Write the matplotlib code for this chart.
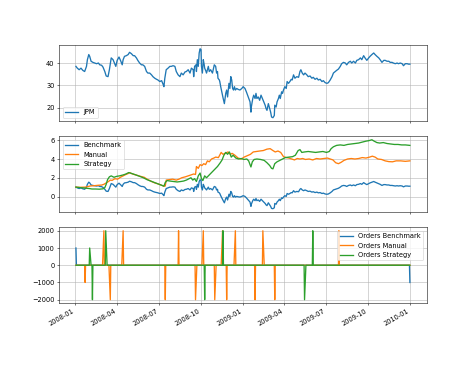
"""JPM price, normalised portfolio values and order sizes, 2008-2009."""

import pandas as pd
import matplotlib
matplotlib.use("Agg")
import matplotlib.pyplot as plt
import matplotlib.dates as mdates

START = pd.Timestamp("2008-01-01")

# JPM close (days after 2008-01-01, price)
jpm_days = [1, 4, 8, 12, 16, 20, 24, 26, 29, 31, 34, 38, 42, 46, 50, 53, 57, 60, 64, 67,
            71, 74, 78, 82, 85, 88, 91, 95, 99, 102, 104, 107, 111, 115, 118, 122, 126, 129, 133, 136,
            140, 144, 147, 151, 155, 158, 162, 166, 169, 173, 177, 180, 184, 188, 191, 193, 195, 198, 202, 206,
            209, 213, 217, 220, 224, 228, 231, 235, 239, 242, 246, 250, 253, 257, 258, 260, 263, 264, 266, 268,
            270, 272, 274, 275, 277, 279, 281, 282, 285, 286, 290, 292, 295, 299, 303, 306, 308, 310, 311, 314,
            315, 317, 320, 322, 325, 328, 330, 332, 335, 337, 339, 341, 343, 345, 347, 349, 352, 355, 359, 363,
            366, 370, 373, 377, 381, 383, 384, 387, 389, 392, 394, 396, 399, 402, 405, 408, 411, 414, 416, 418,
            421, 423, 426, 428, 431, 434, 435, 438, 440, 443, 445, 447, 450, 452, 454, 457, 460, 462, 465, 468,
            471, 473, 476, 479, 483, 487, 490, 492, 495, 498, 501, 505, 508, 512, 516, 519, 523, 527, 530, 534,
            538, 541, 545, 549, 552, 556, 560, 563, 567, 570, 574, 578, 581, 585, 589, 592, 596, 600, 603, 607,
            611, 614, 618, 622, 625, 629, 632, 636, 640, 643, 647, 651, 654, 658, 662, 665, 669, 673, 676, 680,
            684, 687, 691, 694, 698, 702, 705, 709, 713, 716, 720, 724, 727, 730]
jpm_price = [38.5, 37.7, 37.0, 37.7, 36.7, 36.2, 38.5, 41.5, 43.8, 43.0, 40.8, 40.3, 40.0, 39.7, 40.0, 39.2, 39.0, 38.2, 36.2, 34.2,
             33.9, 37.0, 42.3, 41.5, 40.0, 38.5, 41.2, 42.7, 40.8, 39.2, 41.5, 43.0, 43.3, 43.8, 44.8, 44.2, 43.3, 43.3, 42.3, 41.2,
             40.0, 39.2, 39.2, 38.5, 36.2, 35.5, 35.5, 34.7, 33.9, 33.2, 32.7, 32.4, 31.7, 32.1, 30.6, 29.4, 33.2, 37.0, 37.7, 38.5,
             38.5, 38.8, 38.5, 36.2, 34.7, 33.9, 35.5, 34.7, 36.0, 36.2, 37.0, 35.5, 37.7, 37.0, 33.9, 38.5, 39.2, 36.2, 41.5, 38.5,
             44.5, 46.4, 46.0, 38.5, 35.5, 41.5, 39.2, 37.7, 36.2, 35.5, 38.5, 36.2, 37.0, 35.5, 39.2, 38.5, 35.5, 36.2, 33.2, 32.4,
             31.7, 29.4, 26.4, 24.5, 21.8, 26.4, 27.9, 24.8, 30.9, 28.6, 33.9, 32.4, 28.6, 27.9, 29.4, 27.9, 28.6, 28.2, 27.9, 28.6,
             29.4, 28.6, 27.1, 24.8, 22.6, 18.0, 20.5, 24.1, 25.6, 24.1, 26.4, 24.1, 24.8, 23.3, 25.6, 24.1, 22.6, 21.1, 19.6, 18.8,
             21.8, 20.3, 18.0, 15.8, 15.5, 16.5, 21.1, 20.3, 22.6, 24.1, 25.6, 24.1, 27.1, 26.4, 27.9, 29.4, 28.6, 31.7, 30.9, 31.7,
             32.7, 32.4, 34.7, 33.2, 33.9, 33.6, 36.2, 37.0, 35.5, 34.7, 35.5, 34.7, 33.9, 34.2, 33.2, 33.6, 32.7, 33.2, 32.4, 32.7,
             31.7, 32.1, 31.2, 30.9, 31.2, 32.4, 33.9, 35.5, 36.2, 36.7, 37.3, 38.5, 39.7, 40.3, 40.0, 39.2, 40.3, 40.8, 40.0, 40.8,
             40.0, 41.2, 41.5, 42.3, 41.5, 43.3, 42.3, 41.2, 42.3, 43.0, 43.8, 44.5, 43.8, 43.0, 42.3, 41.5, 40.3, 41.2, 41.2, 40.8,
             40.8, 40.3, 40.3, 40.0, 39.7, 40.0, 39.7, 40.0, 39.7, 38.8, 39.7, 39.7, 39.5, 39.5]

# benchmark holds 1000 shares; one dollar of JPM moves it by 0.1
BENCH_PER_DOLLAR = 0.1

# manual strategy value
man_days = [1, 10, 21, 26, 32, 40, 50, 57, 62, 67, 72, 76, 80, 86, 92, 98, 104, 110, 115, 118,
            122, 128, 135, 142, 150, 158, 166, 173, 180, 188, 193, 196, 198, 205, 212, 220, 226, 232, 240, 246,
            252, 258, 262, 264, 268, 272, 276, 280, 284, 288, 292, 297, 302, 306, 312, 318, 322, 326, 333, 338,
            342, 348, 355, 362, 368, 375, 382, 388, 395, 402, 410, 418, 425, 431, 436, 442, 448, 454, 460, 466,
            472, 478, 484, 490, 496, 502, 510, 518, 526, 534, 542, 550, 556, 562, 568, 574, 580, 586, 594, 602,
            610, 618, 626, 634, 642, 648, 654, 660, 668, 676, 684, 692, 700, 710, 720, 730]
man_value = [1.0, 0.98, 1.0, 1.05, 1.12, 1.15, 1.2, 1.22, 1.3, 1.45, 1.6, 1.75, 1.72, 1.9, 1.85, 2.05, 2.2, 2.35, 2.45, 2.55,
             2.45, 2.35, 2.25, 2.15, 2.05, 1.8, 1.6, 1.45, 1.35, 1.2, 1.1, 1.12, 1.75, 1.8, 1.85, 1.75, 1.85, 2.0, 2.1, 2.2,
             2.3, 2.4, 2.35, 3.2, 3.0, 3.4, 3.3, 3.5, 3.4, 3.8, 3.7, 4.0, 4.1, 4.2, 4.15, 4.7, 4.5, 4.6, 4.75, 4.5,
             4.6, 4.4, 4.1, 4.0, 4.2, 4.35, 4.5, 4.75, 4.8, 4.85, 4.9, 5.05, 5.1, 4.9, 4.75, 4.85, 4.7, 4.25, 4.15, 4.1,
             4.0, 3.9, 4.05, 4.0, 4.05, 3.95, 4.0, 3.9, 4.05, 4.0, 4.05, 4.1, 4.0, 3.9, 3.6, 3.5, 3.65, 3.85, 4.0, 4.05,
             4.0, 4.05, 4.15, 4.1, 4.2, 4.3, 4.2, 4.0, 3.95, 3.8, 3.72, 3.7, 3.8, 3.8, 3.75, 3.8]

# learned strategy value
strat_days = [1, 10, 20, 30, 36, 44, 52, 60, 64, 67, 70, 74, 78, 84, 90, 96, 104, 110, 116, 120,
              126, 132, 140, 148, 156, 164, 172, 180, 188, 193, 196, 200, 206, 214, 222, 230, 236, 242, 248, 252,
              256, 260, 264, 268, 272, 275, 278, 282, 286, 292, 298, 304, 310, 316, 320, 324, 328, 332, 336, 340,
              344, 350, 356, 362, 368, 374, 378, 381, 383, 386, 390, 396, 404, 412, 418, 424, 428, 431, 435, 440,
              446, 452, 458, 466, 474, 480, 486, 490, 494, 500, 508, 516, 524, 532, 540, 548, 554, 558, 563, 570,
              578, 586, 594, 602, 610, 618, 626, 634, 640, 647, 652, 658, 664, 672, 680, 688, 696, 704, 712, 720,
              730]
strat_value = [1.0, 0.95, 0.9, 0.85, 0.8, 0.8, 0.78, 0.82, 0.95, 1.3, 1.8, 2.1, 2.2, 2.05, 2.15, 2.2, 2.3, 2.4, 2.55, 2.5,
               2.4, 2.3, 2.15, 2.0, 1.8, 1.65, 1.5, 1.35, 1.2, 1.1, 1.5, 1.7, 1.65, 1.6, 1.55, 1.6, 1.65, 1.75, 1.9, 2.0,
               1.75, 1.9, 1.6, 2.2, 2.5, 1.9, 1.7, 2.2, 2.0, 2.3, 2.6, 2.9, 3.2, 3.6, 3.9, 4.4, 4.7, 4.5, 4.75, 4.2,
               4.4, 4.1, 4.0, 4.05, 3.95, 4.0, 3.8, 3.4, 3.15, 3.7, 3.95, 4.0, 3.95, 3.85, 3.6, 3.3, 3.0, 2.95, 3.5, 3.7,
               3.85, 4.0, 4.15, 4.2, 4.25, 4.4, 4.9, 5.0, 4.7, 4.75, 4.8, 4.75, 4.7, 4.75, 4.8, 4.7, 4.8, 5.1, 5.3, 5.45,
               5.5, 5.45, 5.55, 5.6, 5.65, 5.7, 5.8, 5.9, 5.95, 6.05, 5.9, 5.75, 5.7, 5.75, 5.65, 5.6, 5.55, 5.55, 5.5, 5.5,
               5.45]

# trades (date, shares)
bench_trades = [("2008-01-02", 1000), ("2009-12-31", -1000)]
manual_trades = [("2008-01-22", -1000), ("2008-03-03", 2000), ("2008-03-17", -2000), ("2008-04-14", 2000),
                 ("2008-07-15", -2000), ("2008-08-13", 2000), ("2008-09-19", -2000), ("2008-10-06", 2000),
                 ("2008-10-31", -2000), ("2008-11-17", 2000), ("2008-11-26", -2000), ("2008-12-15", 2000),
                 ("2009-01-27", -2000), ("2009-02-13", 2000), ("2009-03-11", -2000), ("2009-07-29", 2000)]
strat_trades = [("2008-02-01", 1000), ("2008-02-07", -2000), ("2008-03-07", 2000), ("2008-10-09", -2000),
                ("2008-11-18", 2000), ("2009-05-15", -2000), ("2009-06-02", 2000)]


def to_dates(days):
    return START + pd.to_timedelta(days, unit="D")


def order_series(trades, index):
    s = pd.Series(0, index=index)
    for d, n in trades:
        s[pd.Timestamp(d)] = n
    return s


jpm = pd.Series(jpm_price, index=to_dates(jpm_days))
bench = 1 + (jpm - jpm.iloc[0]) * BENCH_PER_DOLLAR
manual = pd.Series(man_value, index=to_dates(man_days))
strat = pd.Series(strat_value, index=to_dates(strat_days))

tdays = pd.bdate_range("2008-01-02", "2009-12-31")
ord_bench = order_series(bench_trades, tdays)
ord_manual = order_series(manual_trades, tdays)
ord_strat = order_series(strat_trades, tdays)

plt.rcParams["lines.linewidth"] = 2.0

fig, axes = plt.subplots(3, 1, figsize=(10, 8), sharex=True)

ax = axes[0]
ax.plot(jpm.index, jpm.values, label="JPM")
ax.legend(loc="lower left")
ax.grid(True)

ax = axes[1]
ax.plot(bench.index, bench.values, label="Benchmark")
ax.plot(manual.index, manual.values, label="Manual")
ax.plot(strat.index, strat.values, label="Strategy")
ax.legend(loc="upper left")
ax.grid(True)

ax = axes[2]
ax.plot(ord_bench.index, ord_bench.values, label="Orders Benchmark")
ax.plot(ord_manual.index, ord_manual.values, label="Orders Manual")
ax.plot(ord_strat.index, ord_strat.values, label="Orders Strategy")
ax.legend(loc="upper right")
ax.grid(True)
ax.xaxis.set_major_locator(mdates.MonthLocator(bymonth=[1, 4, 7, 10]))
ax.xaxis.set_major_formatter(mdates.DateFormatter("%Y-%m"))

fig.autofmt_xdate()
fig.savefig("out.png", dpi=47.4)
